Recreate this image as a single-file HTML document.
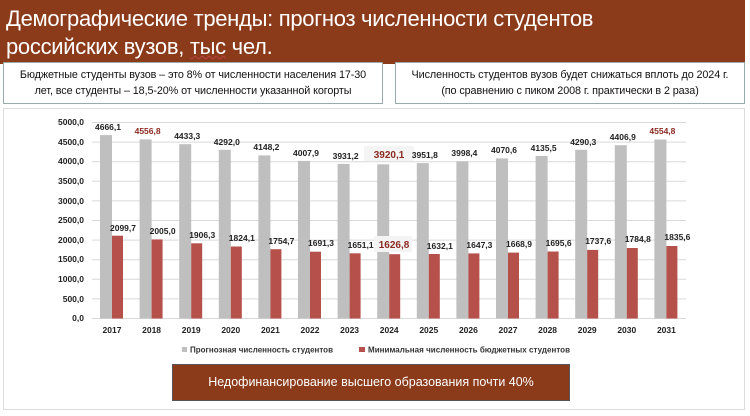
<!DOCTYPE html>
<html><head><meta charset="utf-8"><style>
body{margin:0;width:750px;height:416px;background:#fff;overflow:hidden;font-family:"Liberation Sans","DejaVu Sans",sans-serif;position:relative}
.title{position:absolute;left:0;top:0;width:745px;height:64px;background:#8b3a1a;color:#fff;font-size:22px;line-height:28px;padding:5px 0 0 6px;box-sizing:border-box;letter-spacing:-0.3px}
.box{position:absolute;top:62px;height:42px;background:#fff;border:1px solid #9aa;box-sizing:border-box;font-size:10.8px;line-height:16px;text-align:center;color:#111;padding-top:4px;letter-spacing:-0.1px}
.panel{position:absolute;left:3px;top:108px;width:742px;height:302px;border:1px solid #ddd;box-sizing:border-box;background:#fff}
.bottom{position:absolute;left:172px;top:364px;width:398px;height:37px;background:#8b3a1a;border:1px solid #555;box-sizing:border-box;color:#fff;font-size:12.5px;text-align:center;line-height:35px}
</style></head><body>
<div class="title">Демографические тренды: прогноз численности студентов<br>российских вузов, <span style="text-decoration:underline wavy #b44;text-decoration-thickness:1px">тыс</span> чел.</div>
<div class="panel"></div>
<div class="box" style="left:3px;width:380px">Бюджетные студенты вузов – это 8% от численности населения 17-30<br>лет, все студенты – 18,5-20% от численности указанной когорты</div>
<div class="box" style="left:395px;width:350px">Численность студентов вузов будет снижаться вплоть до 2024 г.<br>(по сравнению с пиком 2008 г. практически в 2 раза)</div>
<svg width="750" height="416" style="position:absolute;left:0;top:0" font-family="Liberation Sans, DejaVu Sans, sans-serif">
<g stroke="#d9d9d9" stroke-width="1">
<line x1="92" x2="686" y1="122.5" y2="122.5"/><line x1="92" x2="686" y1="142.1" y2="142.1"/><line x1="92" x2="686" y1="161.7" y2="161.7"/><line x1="92" x2="686" y1="181.3" y2="181.3"/><line x1="92" x2="686" y1="200.9" y2="200.9"/><line x1="92" x2="686" y1="220.5" y2="220.5"/><line x1="92" x2="686" y1="240.1" y2="240.1"/><line x1="92" x2="686" y1="259.7" y2="259.7"/><line x1="92" x2="686" y1="279.3" y2="279.3"/><line x1="92" x2="686" y1="298.9" y2="298.9"/><line x1="92" x2="686" y1="318.5" y2="318.5"/>
</g>
<g font-size="8.5" font-weight="bold" fill="#222" text-anchor="end">
<text x="84" y="125">5000,0</text><text x="84" y="145">4500,0</text><text x="84" y="164">4000,0</text><text x="84" y="184">3500,0</text><text x="84" y="204">3000,0</text><text x="84" y="223">2500,0</text><text x="84" y="243">2000,0</text><text x="84" y="262">1500,0</text><text x="84" y="282">1000,0</text><text x="84" y="302">500,0</text><text x="84" y="321">0,0</text>
</g>
<g fill="#bfbfbf">
<rect x="100" y="135.1" width="12" height="183.4"/><rect x="139.6" y="139.4" width="12" height="179.1"/><rect x="179.2" y="144.2" width="12" height="174.3"/><rect x="218.8" y="149.8" width="12" height="168.7"/><rect x="258.4" y="155.4" width="12" height="163.1"/><rect x="298" y="160.9" width="12" height="157.6"/><rect x="337.6" y="163.9" width="12" height="154.6"/><rect x="377.2" y="164.3" width="12" height="154.2"/><rect x="416.8" y="163.1" width="12" height="155.4"/><rect x="456.4" y="161.3" width="12" height="157.2"/><rect x="496" y="158.4" width="12" height="160.1"/><rect x="535.6" y="155.9" width="12" height="162.6"/><rect x="575.2" y="149.8" width="12" height="168.7"/><rect x="614.8" y="145.2" width="12" height="173.3"/><rect x="654.4" y="139.5" width="12" height="179"/>
</g>
<rect x="374" y="236" width="38" height="16" fill="#f4f4f4"/>
<g fill="#b5504b">
<rect x="112" y="235.7" width="11" height="82.8"/><rect x="151.6" y="239.4" width="11" height="79.1"/><rect x="191.2" y="243.3" width="11" height="75.2"/><rect x="230.8" y="246.5" width="11" height="72"/><rect x="270.4" y="249.2" width="11" height="69.3"/><rect x="310" y="251.7" width="11" height="66.8"/><rect x="349.6" y="253.3" width="11" height="65.2"/><rect x="389.2" y="254.2" width="11" height="64.3"/><rect x="428.8" y="254" width="11" height="64.5"/><rect x="468.4" y="253.4" width="11" height="65.1"/><rect x="508" y="252.6" width="11" height="65.9"/><rect x="547.6" y="251.5" width="11" height="67"/><rect x="587.2" y="249.9" width="11" height="68.6"/><rect x="626.8" y="248" width="11" height="70.5"/><rect x="666.4" y="246" width="11" height="72.5"/>
</g>
<rect x="364" y="146" width="50" height="15" fill="#f4f4f4"/>
<g font-size="8.5" font-weight="bold" fill="#222" text-anchor="middle">
<text x="108" y="130">4666,1</text><text x="147.6" y="134" fill="#8b2a20">4556,8</text><text x="187.2" y="139">4433,3</text><text x="226.8" y="145">4292,0</text><text x="266.4" y="150">4148,2</text><text x="306" y="156">4007,9</text><text x="345.6" y="159">3931,2</text><text x="389" y="158" font-size="10" fill="#8b2a20">3920,1</text><text x="424.8" y="158">3951,8</text><text x="464.4" y="156">3998,4</text><text x="504" y="153">4070,6</text><text x="543.6" y="151">4135,5</text><text x="583.2" y="145">4290,3</text><text x="622.8" y="140">4406,9</text><text x="662.4" y="134" fill="#8b2a20">4554,8</text>
<text x="123" y="231">2099,7</text><text x="162.6" y="234">2005,0</text><text x="202.2" y="238">1906,3</text><text x="241.8" y="241">1824,1</text><text x="281.4" y="244">1754,7</text><text x="321" y="246">1691,3</text><text x="360.6" y="248">1651,1</text><text x="394" y="248" font-size="10" fill="#8b2a20">1626,8</text><text x="439.8" y="249">1632,1</text><text x="479.4" y="248">1647,3</text><text x="519" y="247">1668,9</text><text x="558.6" y="246">1695,6</text><text x="598.2" y="244">1737,6</text><text x="637.8" y="242">1784,8</text><text x="677.4" y="240">1835,6</text>
<text x="112" y="333">2017</text><text x="151.6" y="333">2018</text><text x="191.2" y="333">2019</text><text x="230.8" y="333">2020</text><text x="270.4" y="333">2021</text><text x="310" y="333">2022</text><text x="349.6" y="333">2023</text><text x="389.2" y="333">2024</text><text x="428.8" y="333">2025</text><text x="468.4" y="333">2026</text><text x="508" y="333">2027</text><text x="547.6" y="333">2028</text><text x="587.2" y="333">2029</text><text x="626.8" y="333">2030</text><text x="666.4" y="333">2031</text>
</g>
<rect x="182" y="347" width="5" height="5" fill="#bfbfbf"/>
<rect x="359" y="347" width="6" height="5" fill="#b5504b"/>
<g font-size="8" font-weight="bold" fill="#333">
<text x="190" y="352.5" textLength="143">Прогнозная численность студентов</text>
<text x="368" y="352.5" textLength="202">Минимальная численность бюджетных студентов</text>
</g>
</svg>
<div class="bottom">Недофинансирование высшего образования почти 40%</div>
</body></html>
